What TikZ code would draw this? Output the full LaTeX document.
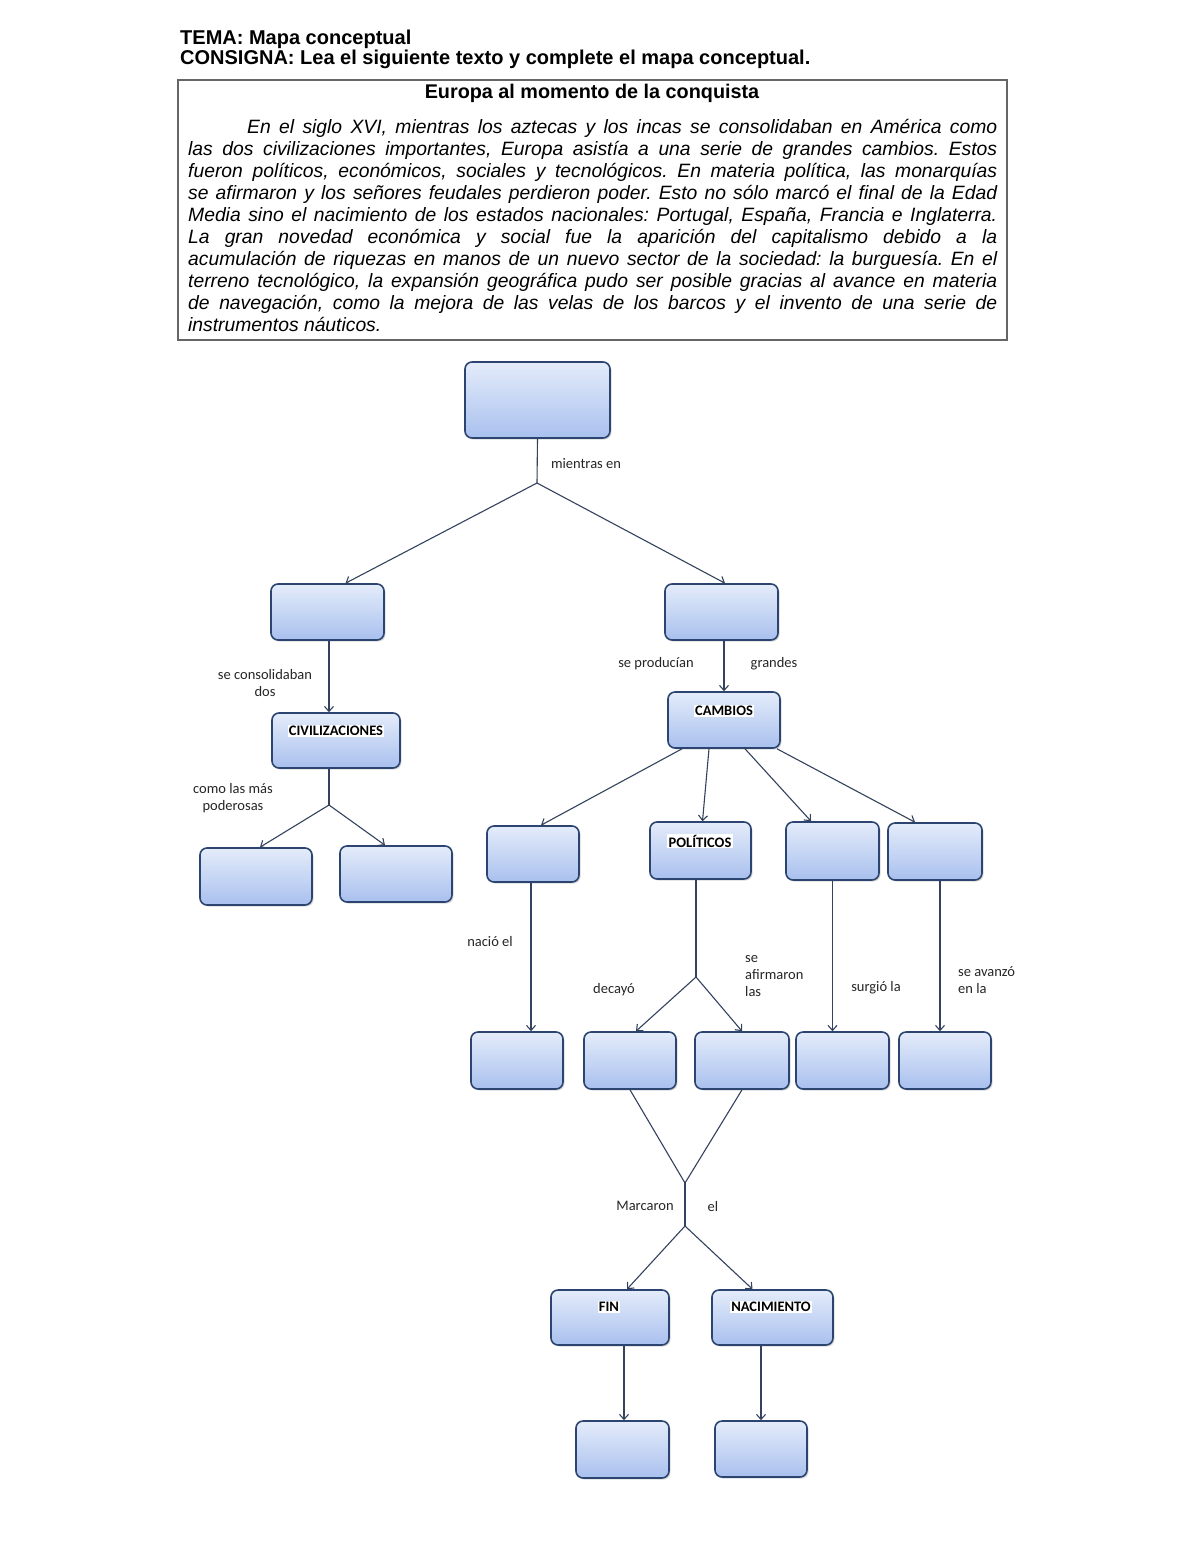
\documentclass[tikz,border=0pt]{standalone}
\usepackage{fontspec}
\setmainfont{Liberation Sans}
\newfontfamily\calfont{Carlito}
\usetikzlibrary{shadows,arrows.meta}
\definecolor{boxtop}{HTML}{E4ECFA}
\definecolor{boxbot}{HTML}{A9C0EE}
\definecolor{boxline}{HTML}{2C4570}
\definecolor{conn}{HTML}{34425E}
\tikzset{
  box/.style={rounded corners=7pt, draw=boxline, line width=1.6pt, top color=boxtop, bottom color=boxbot,
    drop shadow={shadow xshift=1.5pt, shadow yshift=-1.5pt, opacity=0.3}, inner sep=0pt},
  ln/.style={draw=conn, line width=1.1pt},
  arr/.style={ln, -{Straight Barb[length=5pt,width=9pt]}},
  lbl/.style={font=\calfont\fontsize{14.5}{17}\selectfont, text=black!85, inner sep=0pt},
  btxt/.style={font=\calfont\bfseries\fontsize{14.5}{16}\selectfont, fill=white, inner sep=1.2pt},
  para/.style={anchor=base west, inner sep=0pt, font=\frenchspacing\itshape\fontsize{19.3}{22}\selectfont},
}
\begin{document}
\begin{tikzpicture}[x=1pt,y=-1pt]
\useasboundingbox (0,0) rectangle (1200,1553);
\fill[white] (0,0) rectangle (1200,1553);
% header
\node[anchor=base west, inner sep=0pt, font=\bfseries\fontsize{20}{22}\selectfont] (tema) at (180,44) {TEMA: Mapa conceptual};
\node[anchor=base west, inner sep=0pt, font=\bfseries\fontsize{20}{22}\selectfont] (consigna) at (180,64) {CONSIGNA: Lea el siguiente texto y complete el mapa conceptual.};
\draw[draw=black!60, line width=1.2pt] (178,80) rectangle (1007,340);
\node[anchor=base, inner sep=0pt, font=\bfseries\fontsize{19.8}{22}\selectfont] (titulo) at (592,98) {Europa al momento de la conquista};
\node[para] (p1) at (247,133) {\makebox[750pt][s]{En el siglo XVI, mientras los aztecas y los incas se consolidaban en América como}};
\node[para] (p2) at (188,155) {\makebox[809pt][s]{las dos civilizaciones importantes, Europa asistía a una serie de grandes cambios. Estos}};
\node[para] (p3) at (188,177) {\makebox[809pt][s]{fueron políticos, económicos, sociales y tecnológicos. En materia política, las monarquías}};
\node[para] (p4) at (188,199) {\makebox[809pt][s]{se afirmaron y los señores feudales perdieron poder. Esto no sólo marcó el final de la Edad}};
\node[para] (p5) at (188,221) {\makebox[809pt][s]{Media sino el nacimiento de los estados nacionales: Portugal, España, Francia e Inglaterra.}};
\node[para] (p6) at (188,243) {\makebox[809pt][s]{La gran novedad económica y social fue la aparición del capitalismo debido a la}};
\node[para] (p7) at (188,265) {\makebox[809pt][s]{acumulación de riquezas en manos de un nuevo sector de la sociedad: la burguesía. En el}};
\node[para] (p8) at (188,287) {\makebox[809pt][s]{terreno tecnológico, la expansión geográfica pudo ser posible gracias al avance en materia}};
\node[para] (p9) at (188,309) {\makebox[809pt][s]{de navegación, como la mejora de las velas de los barcos y el invento de una serie de}};
\node[para] (p10) at (188,331) {instrumentos náuticos.};
% boxes
\node[box, minimum width=145, minimum height=76] (top) at (537.5,400) {};
\node[box, minimum width=113, minimum height=56] (l1) at (327.5,612) {};
\node[box, minimum width=113, minimum height=56] (r1) at (721.5,612) {};
\node[box, minimum width=128, minimum height=55] (civ) at (336,740.5) {};
\node[box, minimum width=112, minimum height=57] (l3a) at (256,876.5) {};
\node[box, minimum width=112, minimum height=56] (l3b) at (396,874) {};
\node[box, minimum width=112, minimum height=56] (camb) at (724,720) {};
\node[box, minimum width=92, minimum height=56] (ea) at (533,854) {};
\node[box, minimum width=101, minimum height=57] (pol) at (700.5,850.5) {};
\node[box, minimum width=93, minimum height=58] (ec) at (832.5,851) {};
\node[box, minimum width=94, minimum height=57] (ed) at (935,851.5) {};
\node[box, minimum width=92, minimum height=57] (b1) at (517,1060.5) {};
\node[box, minimum width=92, minimum height=57] (b2) at (630,1060.5) {};
\node[box, minimum width=94, minimum height=57] (b3) at (742,1060.5) {};
\node[box, minimum width=93, minimum height=57] (b4) at (842.5,1060.5) {};
\node[box, minimum width=92, minimum height=57] (b5) at (945,1060.5) {};
\node[box, minimum width=118, minimum height=55] (fin) at (610,1317.5) {};
\node[box, minimum width=121, minimum height=55] (nac) at (772.5,1317.5) {};
\node[box, minimum width=93, minimum height=57] (f1) at (622.5,1449.5) {};
\node[box, minimum width=92, minimum height=56] (n1) at (761,1449) {};
% box texts
\node[btxt] (tciv) at (336,731) {CIVILIZACIONES};
\node[btxt] (tcamb) at (724,711) {CAMBIOS};
\node[btxt] (tpol) at (700,841) {POLÍTICOS};
\node[btxt] (tfin) at (609,1307) {FIN};
\node[btxt] (tnac) at (771,1307) {NACIMIENTO};
% junctions
\coordinate (j1) at (537,483);
\coordinate (j2) at (329,805);
\coordinate (j3) at (696,977);
\coordinate (j4) at (685,1183);
\coordinate (j5) at (685,1226);
% connectors
\draw[ln] (top.south) -- (j1);
\draw[arr] (j1) -- ([xshift=18]l1.north);
\draw[arr] (j1) -- ([xshift=3.5]r1.north);
\draw[arr] ([xshift=1.5]l1.south) -- ([xshift=1.5]l1.south |- civ.north);
\draw[ln] (civ.south -| j2) -- (j2);
\draw[arr] (j2) -- ([xshift=4]l3a.north);
\draw[arr] (j2) -- ([xshift=-11]l3b.north);
\draw[arr] (camb.north |- r1.south) -- (camb.north);
\draw[arr] ([xshift=-42]camb.south) -- ([xshift=8]ea.north);
\draw[arr] ([xshift=-15]camb.south) -- ([xshift=2]pol.north);
\draw[arr] ([xshift=21]camb.south) -- ([xshift=-21.5]ec.north);
\draw[arr] ([xshift=53]camb.south) -- ([xshift=-20]ed.north);
\draw[arr] ([xshift=-2]ea.south) -- ([xshift=-2]ea.south |- b1.north);
\draw[ln] (pol.south -| j3) -- (j3);
\draw[arr] (j3) -- ([xshift=6]b2.north);
\draw[arr] (j3) -- (b3.north);
\draw[arr] (ec.south) -- (ec.south |- b4.north);
\draw[arr] ([xshift=5]ed.south) -- ([xshift=5]ed.south |- b5.north);
\draw[ln] (b2.south) -- (j4);
\draw[ln] (b3.south) -- (j4);
\draw[ln] (j4) -- (j5);
\draw[arr] (j5) -- ([xshift=17]fin.north);
\draw[arr] (j5) -- ([xshift=-20]nac.north);
\draw[arr] ([xshift=14]fin.south) -- ([xshift=14]fin.south |- f1.north);
\draw[arr] (n1.north |- nac.south) -- (n1.north);
% connector labels
\node[lbl] (lmien) at (586,464) {mientras en};
\node[lbl, align=center] (lcons) at (265,683) {se consolidaban\\dos};
\node[lbl, align=center] (lcomo) at (233,798) {como las más\\poderosas};
\node[lbl] (lprod) at (656,664) {se producían};
\node[lbl] (lgran) at (774,664) {grandes};
\node[lbl] (lnac) at (490,942) {nació el};
\node[lbl] (ldec) at (614,990) {decayó};
\node[lbl, align=left, anchor=west] (lafir) at (745,976) {se\\afirmaron\\las};
\node[lbl] (lsurg) at (876,988) {surgió la};
\node[lbl, align=left, anchor=west] (lavan) at (958,980) {se avanzó\\en la};
\node[lbl] (lmarc) at (645,1206) {Marcaron};
\node[lbl] (lel) at (713,1206) {el};
\end{tikzpicture}
\end{document}
